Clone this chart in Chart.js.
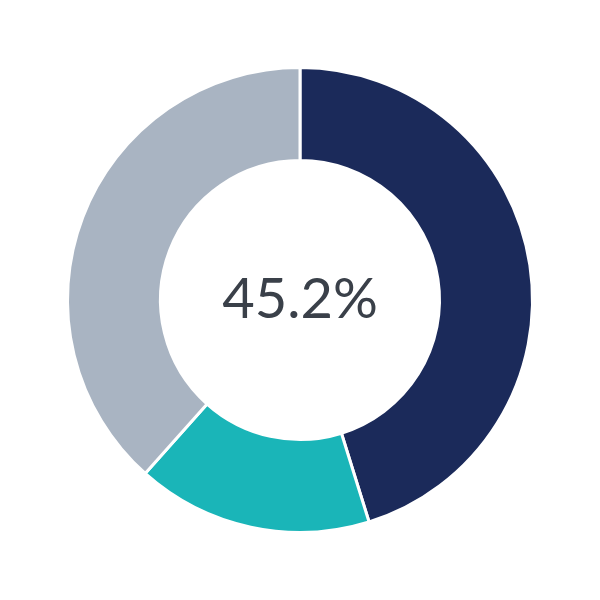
<!DOCTYPE html>
<html>
  <head>
    <title>Share</title>
    <script src="https://cdn.jsdelivr.net/npm/chart.js"></script>
    <style>
      html, body {
        margin: 0;
        padding: 0;
        background: #fff;
      }
      .wrap {
        width: 600px;
        height: 600px;
      }
    </style>
  </head>
  <body>
    <div class="wrap"><canvas id="donut"></canvas></div>
    <script>
      const labels = ["Segment A", "Segment B", "Segment C"];
      const values = [45.2, 16.4, 38.4];
      const colors = ["#1b2a5a", "#1ab5b8", "#a9b4c2"];
      const centerLabel = "45.2%";

      const centerText = {
        id: "centerText",
        afterDraw(chart) {
          const ctx = chart.ctx;
          const meta = chart.getDatasetMeta(0).data[0];
          ctx.save();
          ctx.font = "56px Lato";
          ctx.fillStyle = "#3a4049";
          ctx.textAlign = "center";
          ctx.textBaseline = "middle";
          ctx.fillText(centerLabel, meta.x, meta.y);
          ctx.restore();
        },
      };

      new Chart(document.getElementById("donut"), {
        type: "doughnut",
        data: {
          labels: labels,
          datasets: [
            {
              data: values,
              backgroundColor: colors,
              borderColor: "#ffffff",
              borderWidth: 3,
            },
          ],
        },
        options: {
          responsive: true,
          maintainAspectRatio: false,
          animation: false,
          cutout: "60%",
          layout: { padding: 66 },
          plugins: {
            legend: { display: false },
            tooltip: { enabled: false },
          },
        },
        plugins: [centerText],
      });
    </script>
  </body>
</html>
